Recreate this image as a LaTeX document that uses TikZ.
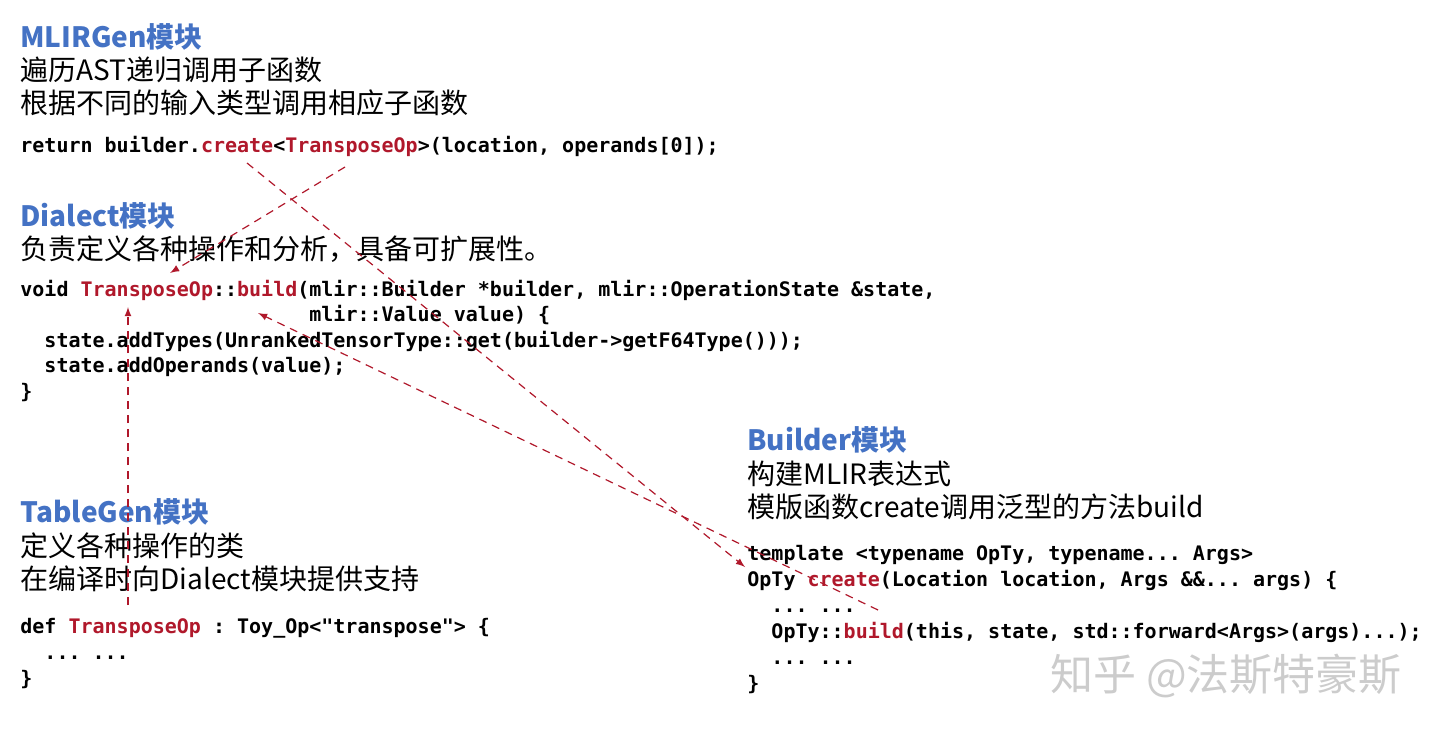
\documentclass[tikz,border=0pt]{standalone}
\usepackage{fontspec}
\setmainfont{Noto Sans CJK SC}
\setmonofont{DejaVu Sans Mono}
\begin{document}
\begin{tikzpicture}[x=0.5pt,y=-0.5pt,
  head/.style={anchor=base west,inner sep=0,font=\fontsize{14}{14}\selectfont\bfseries,text=hb},
  body/.style={anchor=base west,inner sep=0,font=\fontsize{14}{14}\selectfont},
  code/.style={anchor=base west,inner sep=0,font=\fontsize{10}{10}\selectfont\ttfamily\bfseries},
  link/.style={draw=rd,densely dashed,dash pattern=on 4pt off 3pt,line width=0.6pt,-latex}]
\definecolor{hb}{HTML}{4472C4}
\definecolor{rd}{HTML}{B0182B}
\newcommand{\rr}[1]{\textcolor{rd}{#1}}
\useasboundingbox (0,0) rectangle (1440,733);
% MLIRGen
\node[head] (h1) at (20,48) {MLIRGen模块};
\node[body] (b11) at (20,81) {遍历AST递归调用子函数};
\node[body] (b12) at (20,114) {根据不同的输入类型调用相应子函数};
\node[code] (c1) at (20,153) {return builder.\rr{create}<\rr{TransposeOp}>(location, operands[0]);};
% Dialect
\node[head] (h2) at (20,226) {Dialect模块};
\node[body] (b21) at (20,259) {负责定义各种操作和分析，具备可扩展性。};
\node[code] (c21) at (20,296) {void \rr{TransposeOp}::\rr{build}(mlir::Builder *builder, mlir::OperationState \&state,};
\node[code] (c22) at (20,321) {\phantom{xxxxxxxxxxxxxxxxxxxxxxxx}mlir::Value value) \{};
\node[code] (c23) at (20,347) {\ \ state.addTypes(UnrankedTensorType::get(builder->getF64Type()));};
\node[code] (c24) at (20,372) {\ \ state.addOperands(value);};
\node[code] (c25) at (20,398) {\}};
% Builder
\node[head] (h3) at (747,450) {Builder模块};
\node[body] (b31) at (747,484) {构建MLIR表达式};
\node[body] (b32) at (747,517) {模版函数create调用泛型的方法build};
\node[code] (c31) at (747,560) {template <typename OpTy, typename... Args>};
\node[code] (c32) at (747,586) {OpTy \rr{create}(Location location, Args \&\&... args) \{};
\node[code] (c33) at (747,612) {\ \ ... ...};
\node[code] (c34) at (747,638) {\ \ OpTy::\rr{build}(this, state, std::forward<Args>(args)...);};
\node[code] (c35) at (747,664) {\ \ ... ...};
\node[code] (c36) at (747,690) {\}};
% TableGen
\node[head] (h4) at (20,522) {TableGen模块};
\node[body] (b41) at (20,556) {定义各种操作的类};
\node[body] (b42) at (20,589) {在编译时向Dialect模块提供支持};
\node[code] (c41) at (20,633) {def \rr{TransposeOp} : Toy\_Op<"transpose"> \{};
\node[code] (c42) at (20,659) {\ \ ... ...};
\node[code] (c43) at (20,685) {\}};
% watermark
\node[anchor=base west,inner sep=0,font=\fontsize{21.5}{21.5}\selectfont,text=black!20] (wm) at (1050,690) {知乎 @法斯特豪斯};
% links
\coordinate (s1) at (345,167); \coordinate (e1) at (170,273);
\coordinate (s2) at (247,163); \coordinate (e2) at (745,567);
\coordinate (s3) at (878,610); \coordinate (e3) at (258,313);
\coordinate (s4) at (128,605); \coordinate (e4) at (128,307);
\draw[link] (s1) -- (e1);
\draw[link] (s2) -- (e2);
\draw[link] (s3) -- (e3);
\draw[link] (s4) -- (e4);
\end{tikzpicture}
\end{document}
